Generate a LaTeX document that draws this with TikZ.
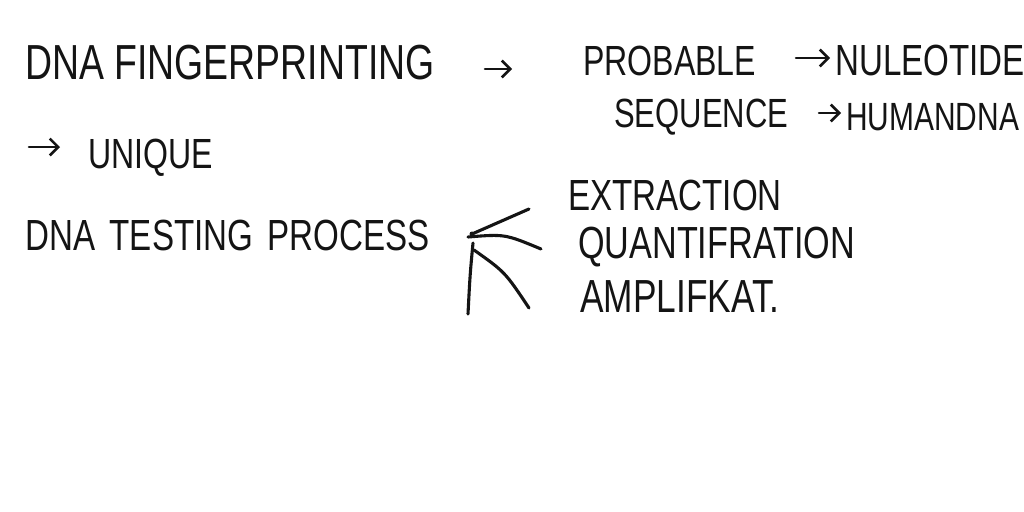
\documentclass[tikz,border=0pt]{standalone}
\usepackage{fontspec}
\newfontfamily\handfont[FakeStretch=0.76]{Liberation Sans}
\usetikzlibrary{arrows.meta}

\tikzset{
  note/.style={anchor=base west, inner sep=0pt, text=ink, font=\handfont\fontsize{#1}{#1}\selectfont},
  note/.default=30,
  pointer/.style={draw=ink, line width=1.8pt, line cap=round, -{Straight Barb[length=6pt,width=12pt]}},
  branch/.style={draw=ink, line width=2.2pt, line cap=round},
}
\definecolor{ink}{HTML}{141414}

\begin{document}
\begin{tikzpicture}[x=0.025cm,y=-0.025cm]
\useasboundingbox[fill=white] (0,0) rectangle (1024,512);

% top line
\node[note=35] (fp) at (25,80) {DNA FINGERPRINTING};
\coordinate (a1s) at (485,69);
\coordinate (a1e) at (512,69);
\draw[pointer] (a1s) -- (a1e);

\node[note=30] (prob) at (583,75) {PROBABLE};
\coordinate (a2s) at (796,58);
\coordinate (a2e) at (830,58);
\draw[pointer] (a2s) -- (a2e);
\node[note=31] (nuc) at (835,76) {NULEOTIDE};

\node[note=29] (seq) at (614,127) {SEQUENCE};
\coordinate (a3s) at (819,113);
\coordinate (a3e) at (841,113);
\draw[pointer] (a3s) -- (a3e);
\node[note=28] (hum) at (846,130) {HUMANDNA};

% unique
\coordinate (a4s) at (29,147);
\coordinate (a4e) at (60,147);
\draw[pointer] (a4s) -- (a4e);
\node[note=30] (uniq) at (88,168) {UNIQUE};

% testing process
\node[note=31] (test) at (25,250) {DNA\,\,TESTING\,\,PROCESS};
\node[note=31] (extr) at (568,210) {EXTRACTION};
\node[note=32] (quan) at (578,258) {QUANTIFRATION};
\node[note=33] (ampl) at (580,312) {AMPLIFKAT.};

\coordinate (hub) at (472,234);
\coordinate (h2) at (468,237);
\coordinate (h3) at (473,243);
\coordinate (h4) at (474,250);
\coordinate (b1) at (529,209);
\coordinate (b2) at (541,249);
\coordinate (b3) at (468,314);
\coordinate (b4) at (529,308);
\fill[ink] (hub) circle (2.5);
\draw[branch] (hub) -- (b1);
\draw[branch] (h2) .. controls (505,234) .. (b2);
\draw[branch] (h3) .. controls (470,275) .. (b3);
\draw[branch] (h4) .. controls (505,272) .. (b4);
\end{tikzpicture}
\end{document}
